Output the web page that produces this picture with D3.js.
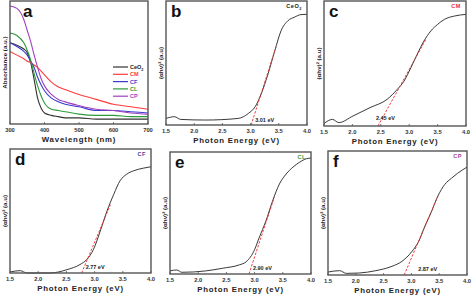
<!DOCTYPE html>
<html>
<head>
<meta charset="utf-8">
<script src="https://cdn.jsdelivr.net/npm/d3@7"></script>
<style>
  body { margin: 0; background: #fff; }
  svg { display: block; font-family: "Liberation Sans", Arial, sans-serif; }
  .tick-label { font-size: 5.8px; font-weight: bold; fill: #333; }
  .axis-title { font-size: 7.8px; font-weight: bold; fill: #222; letter-spacing: 0.8px; }
  .y-title { font-size: 6.2px; font-weight: bold; fill: #222; }
  .panel-letter { font-size: 17px; font-weight: bold; fill: #111; }
</style>
</head>
<body>
<div class="chart"></div>
<script>
// ---- data ----
// panel a: UV-vis absorbance
const wavelengths = [300, 320, 340, 350, 360, 370, 380, 390, 400, 420, 440, 460, 500, 550, 600, 650, 700];
const absCeO2 = [0.66, 0.64, 0.61, 0.58, 0.50, 0.36, 0.21, 0.13, 0.09, 0.07, 0.06, 0.05, 0.05, 0.04, 0.04, 0.04, 0.04];
const absCM   = [0.59, 0.56, 0.53, 0.51, 0.50, 0.48, 0.46, 0.43, 0.40, 0.34, 0.30, 0.28, 0.24, 0.20, 0.16, 0.14, 0.12];
const absCF   = [0.66, 0.63, 0.59, 0.56, 0.51, 0.46, 0.38, 0.32, 0.27, 0.21, 0.18, 0.16, 0.14, 0.11, 0.11, 0.10, 0.09];
const absCL   = [0.74, 0.72, 0.66, 0.60, 0.52, 0.41, 0.31, 0.23, 0.17, 0.12, 0.11, 0.10, 0.08, 0.07, 0.07, 0.06, 0.06];
const absCP   = [0.96, 0.94, 0.85, 0.76, 0.67, 0.56, 0.46, 0.37, 0.31, 0.24, 0.20, 0.18, 0.15, 0.12, 0.11, 0.09, 0.08];
const sampleNames = ['CeO2', 'CM', 'CF', 'CL', 'CP'];
const sampleColors = ['#333333', '#ff3b3b', '#3a3ad0', '#2f9a3a', '#a040c0'];
const wavelengthTicks = [300, 400, 500, 600, 700];

// panels b-f: Tauc plots (photon energy eV vs (ahv)^2, arbitrary units)
const taucE_CeO2 = [1.5, 1.65, 1.76, 2.2, 2.78, 2.96, 3.08, 3.19, 3.31, 3.43, 3.54, 3.66, 3.78, 3.89, 4.0];
const taucY_CeO2 = [0.053, 0.067, 0.045, 0.04, 0.053, 0.093, 0.147, 0.253, 0.413, 0.6, 0.76, 0.84, 0.87, 0.89, 0.893];
const taucE_CM = [1.5, 1.65, 1.76, 2.01, 2.31, 2.61, 2.79, 2.91, 3.03, 3.14, 3.26, 3.38, 3.5, 3.62, 3.8, 4.0];
const taucY_CM = [0.02, 0.053, 0.027, 0.08, 0.147, 0.213, 0.293, 0.36, 0.467, 0.573, 0.68, 0.76, 0.813, 0.853, 0.88, 0.893];
const taucE_CF = [1.5, 1.68, 1.8, 2.21, 2.51, 2.74, 2.86, 2.98, 3.1, 3.22, 3.34, 3.45, 3.57, 3.69, 3.87, 4.0];
const taucY_CF = [0.008, 0.019, 0.0, 0.0, 0.027, 0.068, 0.108, 0.19, 0.338, 0.5, 0.635, 0.743, 0.797, 0.824, 0.846, 0.857];
const taucE_CL = [1.5, 1.62, 1.71, 2.13, 2.43, 2.73, 2.85, 3.0, 3.08, 3.2, 3.32, 3.44, 3.56, 3.68, 3.8, 3.92, 4.0];
const taucY_CL = [0.025, 0.033, 0.014, 0.025, 0.047, 0.075, 0.1, 0.2, 0.296, 0.434, 0.6, 0.738, 0.82, 0.876, 0.917, 0.945, 0.95];
const taucE_CP = [1.5, 1.71, 1.83, 2.06, 2.36, 2.65, 2.83, 3.01, 3.13, 3.24, 3.36, 3.48, 3.6, 3.72, 3.83, 4.0];
const taucY_CP = [0.024, 0.035, 0.013, 0.016, 0.035, 0.07, 0.11, 0.19, 0.27, 0.39, 0.51, 0.64, 0.73, 0.78, 0.82, 0.87];
const bandGaps = [3.01, 2.45, 2.77, 2.90, 2.87];
const tangentEndE = [3.45, 3.29, 3.28, 3.35, 3.48];
const tangentEndY = [0.63, 0.69, 0.55, 0.63, 0.64];
const energyTicks = [1.5, 2.0, 2.5, 3.0, 3.5, 4.0];

// ---- layout ----
const svg_width = 474, svg_height = 296;
const svg = d3.select('.chart').append('svg')
  .attr('width', svg_width).attr('height', svg_height);

// frame boxes [left, top, right, bottom]
const boxA = [10, 1, 148, 124];
const taucBoxes = [
  [166, 1, 307, 125],
  [324, 1, 466, 126],
  [10, 149, 151, 273],
  [170, 152, 311, 274],
  [328, 151, 467, 275]
];
const taucLetters = ['b', 'c', 'd', 'e', 'f'];
const taucE = [taucE_CeO2, taucE_CM, taucE_CF, taucE_CL, taucE_CP];
const taucY = [taucY_CeO2, taucY_CM, taucY_CF, taucY_CL, taucY_CP];
const taucLabelColors = ['#222', '#e83030', '#4a3d9a', '#3a9a3a', '#a0409a'];
const gapLabelOffsets = [[4, -3], [-2, -6], [4, -4], [4, -4], [14, -4]];

function drawFrame(g, box, xScale, ticks, fmt, xTitle, yTitle, letter) {
  const [l, t, r, b] = box;
  // ticks
  g.selectAll('.tk').data(ticks).enter().append('line')
    .attr('x1', d => xScale(d)).attr('x2', d => xScale(d))
    .attr('y1', b).attr('y2', b - 2)
    .attr('stroke', '#555').attr('stroke-width', 0.8);
  g.selectAll('.tick-label').data(ticks).enter().append('text')
    .attr('class', 'tick-label')
    .attr('x', d => xScale(d)).attr('y', b + 7.5)
    .attr('text-anchor', 'middle')
    .text(fmt);
  g.append('text').attr('class', 'axis-title')
    .attr('x', (l + r) / 2).attr('y', b + 17.5)
    .attr('text-anchor', 'middle').text(xTitle);
  g.append('text').attr('class', 'y-title')
    .attr('transform', `translate(${l - 3.5},${(t + b) / 2}) rotate(-90)`)
    .attr('text-anchor', 'middle').text(yTitle);
  g.append('rect')
    .attr('x', l).attr('y', t).attr('width', r - l).attr('height', b - t)
    .attr('fill', 'none').attr('stroke', '#555').attr('stroke-width', 1.4);
  g.append('text').attr('class', 'panel-letter')
    .attr('x', l + 5).attr('y', t + 16).text(letter);
}

// ---- panel a ----
const gA = svg.append('g');
const xA = d3.scaleLinear().domain([300, 700]).range([boxA[0], boxA[2]]);
const yA = d3.scaleLinear().domain([0, 1]).range([boxA[3], boxA[1]]);
const absSeries = [absCeO2, absCM, absCF, absCL, absCP];
const lineA = d3.line().x(d => xA(d[0])).y(d => yA(d[1])).curve(d3.curveMonotoneX);
absSeries.forEach((vals, i) => {
  gA.append('path')
    .datum(wavelengths.map((w, j) => [w, vals[j]]))
    .attr('d', lineA)
    .attr('fill', 'none')
    .attr('stroke', sampleColors[i])
    .attr('stroke-width', 1.1);
});
drawFrame(gA, boxA, xA, wavelengthTicks, d => d, 'Wavelength (nm)', 'Absorbance (a.u.)', 'a');
gA.select('.panel-letter').attr('x', boxA[0] + 13);

// legend
const legend = gA.append('g').attr('transform', 'translate(113,67)');
sampleNames.forEach((name, i) => {
  const row = legend.append('g').attr('transform', `translate(0,${i * 7.3})`);
  row.append('line').attr('x1', 0).attr('x2', 15).attr('y1', 0).attr('y2', 0)
    .attr('stroke', sampleColors[i]).attr('stroke-width', 1.2);
  const txt = row.append('text').attr('x', 17).attr('y', 2)
    .style('font-size', '5.5px').style('font-weight', 'bold')
    .attr('fill', i === 0 ? '#222' : sampleColors[i]);
  if (name === 'CeO2') {
    txt.append('tspan').text('CeO');
    txt.append('tspan').text('2').attr('dy', 1.5).style('font-size', '3.8px');
  } else {
    txt.text(name);
  }
});

// ---- panels b-f ----
taucBoxes.forEach((box, i) => {
  const g = svg.append('g');
  const x = d3.scaleLinear().domain([1.5, 4.0]).range([box[0], box[2]]);
  const y = d3.scaleLinear().domain([0, 1]).range([box[3], box[1]]);
  const line = d3.line().x(d => x(d[0])).y(d => y(d[1])).curve(d3.curveMonotoneX);
  g.append('path')
    .datum(taucE[i].map((e, j) => [e, taucY[i][j]]))
    .attr('d', line)
    .attr('fill', 'none').attr('stroke', '#222').attr('stroke-width', 0.9);
  // tangent
  g.append('line')
    .attr('x1', x(bandGaps[i])).attr('y1', y(0))
    .attr('x2', x(tangentEndE[i])).attr('y2', y(tangentEndY[i]))
    .attr('stroke', '#ee2a2a').attr('stroke-width', 0.9)
    .attr('stroke-dasharray', '2.5,1.5');
  g.append('text')
    .attr('x', x(bandGaps[i]) + gapLabelOffsets[i][0])
    .attr('y', y(0) + gapLabelOffsets[i][1])
    .style('font-size', '5.5px').style('font-weight', 'bold').attr('fill', '#222')
    .text(d3.format('.2f')(bandGaps[i]) + ' eV');
  drawFrame(g, box, x, energyTicks, d3.format('.1f'), 'Photon Energy (eV)', '(αhν)² (a.u)', taucLetters[i]);
  // sample label
  const lab = g.append('text')
    .attr('x', box[2] - 5).attr('y', box[1] + 7)
    .attr('text-anchor', 'end')
    .style('font-size', '5.5px').style('font-weight', 'bold')
    .style('letter-spacing', '0.6px')
    .attr('fill', taucLabelColors[i]);
  if (i === 0) {
    lab.append('tspan').text('CeO');
    lab.append('tspan').text('2').attr('dy', 1.5).style('font-size', '3.8px');
  } else {
    lab.text(sampleNames[i]);
  }
});
</script>
</body>
</html>
